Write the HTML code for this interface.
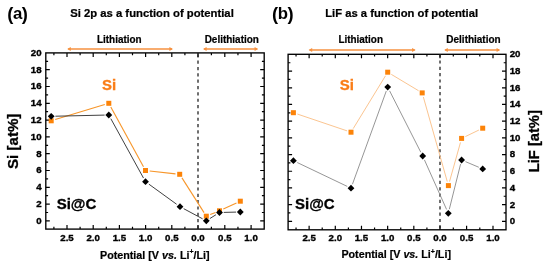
<!DOCTYPE html>
<html><head><meta charset="utf-8"><title>Si 2p and LiF as a function of potential</title>
<style>
html,body{margin:0;padding:0;background:#fff;}
svg{display:block;}
svg text{font-family:"Liberation Sans",Arial,sans-serif;font-weight:bold;}
svg text.tk{stroke:#000;stroke-width:0.35px;}
svg text.hv{stroke:#000;stroke-width:0.3px;}
svg text.hl{stroke:#000;stroke-width:0.22px;}
svg text.ho{stroke:#FA7D17;stroke-width:0.3px;}
</style></head>
<body>
<svg width="550" height="270" viewBox="0 0 550 270">
<rect width="550" height="270" fill="#fff"/>
<rect x="45.8" y="52.9" width="218.39999999999998" height="176.2" fill="none" stroke="#000" stroke-width="1.35"/>
<path d="M67.00 229.1v-4.0M67.00 52.9v4.0M93.20 229.1v-4.0M93.20 52.9v4.0M119.40 229.1v-4.0M119.40 52.9v4.0M145.60 229.1v-4.0M145.60 52.9v4.0M171.80 229.1v-4.0M171.80 52.9v4.0M198.00 229.1v-4.0M198.00 52.9v4.0M224.80 229.1v-4.0M224.80 52.9v4.0M251.10 229.1v-4.0M251.10 52.9v4.0M53.90 229.1v-2.3M53.90 52.9v2.3M80.10 229.1v-2.3M80.10 52.9v2.3M106.30 229.1v-2.3M106.30 52.9v2.3M132.50 229.1v-2.3M132.50 52.9v2.3M158.70 229.1v-2.3M158.70 52.9v2.3M184.90 229.1v-2.3M184.90 52.9v2.3M211.40 229.1v-2.3M211.40 52.9v2.3M237.95 229.1v-2.3M237.95 52.9v2.3M45.8 220.90h4.0M264.2 220.90h-4.0M45.8 204.10h4.0M264.2 204.10h-4.0M45.8 187.30h4.0M264.2 187.30h-4.0M45.8 170.50h4.0M264.2 170.50h-4.0M45.8 153.70h4.0M264.2 153.70h-4.0M45.8 136.90h4.0M264.2 136.90h-4.0M45.8 120.10h4.0M264.2 120.10h-4.0M45.8 103.30h4.0M264.2 103.30h-4.0M45.8 86.50h4.0M264.2 86.50h-4.0M45.8 69.70h4.0M264.2 69.70h-4.0M45.8 212.50h2.3M264.2 212.50h-2.3M45.8 195.70h2.3M264.2 195.70h-2.3M45.8 178.90h2.3M264.2 178.90h-2.3M45.8 162.10h2.3M264.2 162.10h-2.3M45.8 145.30h2.3M264.2 145.30h-2.3M45.8 128.50h2.3M264.2 128.50h-2.3M45.8 111.70h2.3M264.2 111.70h-2.3M45.8 94.90h2.3M264.2 94.90h-2.3M45.8 78.10h2.3M264.2 78.10h-2.3M45.8 61.30h2.3M264.2 61.30h-2.3" stroke="#000" stroke-width="1.2" fill="none"/>
<line x1="198.0" y1="54.25" x2="198.0" y2="229.1" stroke="#1a1a1a" stroke-width="1.25" stroke-dasharray="3.2 3.14"/>
<line x1="55.22" y1="119.58" x2="104.78" y2="104.52" stroke="#F7962A" stroke-width="1.1"/>
<line x1="110.81" y1="106.99" x2="143.49" y2="166.81" stroke="#F7962A" stroke-width="1.1"/>
<line x1="149.67" y1="170.96" x2="175.53" y2="173.84" stroke="#F7962A" stroke-width="1.1"/>
<line x1="181.95" y1="177.85" x2="204.05" y2="212.65" stroke="#F7962A" stroke-width="1.1"/>
<line x1="210.19" y1="214.61" x2="215.61" y2="212.39" stroke="#F7962A" stroke-width="1.1"/>
<line x1="223.31" y1="209.04" x2="236.49" y2="202.96" stroke="#F7962A" stroke-width="1.1"/>
<line x1="55.40" y1="116.21" x2="104.60" y2="115.09" stroke="#2b2b2b" stroke-width="0.9"/>
<line x1="110.82" y1="118.68" x2="143.48" y2="178.02" stroke="#2b2b2b" stroke-width="0.9"/>
<line x1="148.90" y1="184.16" x2="176.60" y2="204.24" stroke="#2b2b2b" stroke-width="0.9"/>
<line x1="183.70" y1="208.68" x2="202.60" y2="218.82" stroke="#2b2b2b" stroke-width="0.9"/>
<line x1="209.86" y1="218.56" x2="215.94" y2="214.74" stroke="#2b2b2b" stroke-width="0.9"/>
<line x1="223.70" y1="212.40" x2="236.10" y2="212.10" stroke="#2b2b2b" stroke-width="0.9"/>
<rect x="48.70" y="118.30" width="5.0" height="5.0" fill="#FC8308"/>
<rect x="106.30" y="100.80" width="5.0" height="5.0" fill="#FC8308"/>
<rect x="143.00" y="168.00" width="5.0" height="5.0" fill="#FC8308"/>
<rect x="177.20" y="171.80" width="5.0" height="5.0" fill="#FC8308"/>
<rect x="203.80" y="213.70" width="5.0" height="5.0" fill="#FC8308"/>
<rect x="217.00" y="208.30" width="5.0" height="5.0" fill="#FC8308"/>
<rect x="237.80" y="198.70" width="5.0" height="5.0" fill="#FC8308"/>
<path d="M51.20 112.90L54.60 116.30L51.20 119.70L47.80 116.30Z" fill="#000"/>
<path d="M108.80 111.60L112.20 115.00L108.80 118.40L105.40 115.00Z" fill="#000"/>
<path d="M145.50 178.30L148.90 181.70L145.50 185.10L142.10 181.70Z" fill="#000"/>
<path d="M180.00 203.30L183.40 206.70L180.00 210.10L176.60 206.70Z" fill="#000"/>
<path d="M206.30 217.40L209.70 220.80L206.30 224.20L202.90 220.80Z" fill="#000"/>
<path d="M219.50 209.10L222.90 212.50L219.50 215.90L216.10 212.50Z" fill="#000"/>
<path d="M240.30 208.60L243.70 212.00L240.30 215.40L236.90 212.00Z" fill="#000"/>
<text x="41.6" y="223.80" font-size="9.7" text-anchor="end" fill="#000" class="tk">0</text>
<text x="41.6" y="207.00" font-size="9.7" text-anchor="end" fill="#000" class="tk">2</text>
<text x="41.6" y="190.20" font-size="9.7" text-anchor="end" fill="#000" class="tk">4</text>
<text x="41.6" y="173.40" font-size="9.7" text-anchor="end" fill="#000" class="tk">6</text>
<text x="41.6" y="156.60" font-size="9.7" text-anchor="end" fill="#000" class="tk">8</text>
<text x="41.6" y="139.80" font-size="9.7" text-anchor="end" fill="#000" class="tk">10</text>
<text x="41.6" y="123.00" font-size="9.7" text-anchor="end" fill="#000" class="tk">12</text>
<text x="41.6" y="106.20" font-size="9.7" text-anchor="end" fill="#000" class="tk">14</text>
<text x="41.6" y="89.40" font-size="9.7" text-anchor="end" fill="#000" class="tk">16</text>
<text x="41.6" y="72.60" font-size="9.7" text-anchor="end" fill="#000" class="tk">18</text>
<text x="41.6" y="55.80" font-size="9.7" text-anchor="end" fill="#000" class="tk">20</text>
<text x="67.00" y="241.0" font-size="9.7" text-anchor="middle" fill="#000" class="tk">2.5</text>
<text x="93.20" y="241.0" font-size="9.7" text-anchor="middle" fill="#000" class="tk">2.0</text>
<text x="119.40" y="241.0" font-size="9.7" text-anchor="middle" fill="#000" class="tk">1.5</text>
<text x="145.60" y="241.0" font-size="9.7" text-anchor="middle" fill="#000" class="tk">1.0</text>
<text x="171.80" y="241.0" font-size="9.7" text-anchor="middle" fill="#000" class="tk">0.5</text>
<text x="198.00" y="241.0" font-size="9.7" text-anchor="middle" fill="#000" class="tk">0.0</text>
<text x="224.80" y="241.0" font-size="9.7" text-anchor="middle" fill="#000" class="tk">0.5</text>
<text x="251.10" y="241.0" font-size="9.7" text-anchor="middle" fill="#000" class="tk">1.0</text>
<line x1="68.2" y1="49.0" x2="172.0" y2="49.0" stroke="#F6913F" stroke-width="1.4"/><path d="M67.2 49.0l3.6 -2.1v4.2Z M173.0 49.0l-3.6 -2.1v4.2Z" fill="#F6913F"/>
<line x1="204.0" y1="49.0" x2="257.2" y2="49.0" stroke="#F6913F" stroke-width="1.4"/><path d="M203.0 49.0l3.6 -2.1v4.2Z M258.2 49.0l-3.6 -2.1v4.2Z" fill="#F6913F"/>
<text x="119.3" y="42.7" font-size="10.2" text-anchor="middle" fill="#000" textLength="44.6" lengthAdjust="spacingAndGlyphs" class="hl">Lithiation</text>
<text x="231.8" y="42.7" font-size="10.2" text-anchor="middle" fill="#000" textLength="54.3" lengthAdjust="spacingAndGlyphs" class="hl">Delithiation</text>
<text x="7.2" y="19.1" font-size="16.8"><tspan font-size="18.4" dy="0.6">(</tspan><tspan dy="-0.6" dx="-0.4">a</tspan><tspan font-size="18.4" dy="0.6" dx="-0.4">)</tspan></text>
<text x="70.2" y="16.6" font-size="11.3" text-anchor="start" fill="#000" textLength="163.6" lengthAdjust="spacingAndGlyphs" class="hl">Si 2p as a function of potential</text>
<text x="102.1" y="90.1" font-size="15" text-anchor="start" fill="#FA7D17" class="ho">Si</text>
<text x="56.7" y="208.8" font-size="15" text-anchor="start" fill="#000" class="hv">Si@C</text>
<text transform="translate(17.6 141.3) rotate(-90)" font-size="15.1" text-anchor="middle" class="hv">Si [at%]</text>
<text x="100.0" y="258.6" font-size="11.4" textLength="109.6" lengthAdjust="spacingAndGlyphs" class="hl">Potential [V <tspan font-style="italic">vs.</tspan> Li<tspan font-size="7.4" dy="-4.2">+</tspan><tspan dy="4.2">/Li]</tspan></text>
<rect x="288.1" y="54.3" width="217.89999999999998" height="175.5" fill="none" stroke="#000" stroke-width="1.35"/>
<path d="M309.12 229.8v-4.0M309.12 54.3v4.0M335.30 229.8v-4.0M335.30 54.3v4.0M361.48 229.8v-4.0M361.48 54.3v4.0M387.65 229.8v-4.0M387.65 54.3v4.0M413.82 229.8v-4.0M413.82 54.3v4.0M440.00 229.8v-4.0M440.00 54.3v4.0M466.60 229.8v-4.0M466.60 54.3v4.0M493.00 229.8v-4.0M493.00 54.3v4.0M296.04 229.8v-2.3M296.04 54.3v2.3M322.21 229.8v-2.3M322.21 54.3v2.3M348.39 229.8v-2.3M348.39 54.3v2.3M374.56 229.8v-2.3M374.56 54.3v2.3M400.74 229.8v-2.3M400.74 54.3v2.3M426.91 229.8v-2.3M426.91 54.3v2.3M453.30 229.8v-2.3M453.30 54.3v2.3M479.80 229.8v-2.3M479.80 54.3v2.3M288.1 221.30h4.0M506.0 221.30h-4.0M288.1 204.61h4.0M506.0 204.61h-4.0M288.1 187.92h4.0M506.0 187.92h-4.0M288.1 171.23h4.0M506.0 171.23h-4.0M288.1 154.54h4.0M506.0 154.54h-4.0M288.1 137.85h4.0M506.0 137.85h-4.0M288.1 121.16h4.0M506.0 121.16h-4.0M288.1 104.47h4.0M506.0 104.47h-4.0M288.1 87.78h4.0M506.0 87.78h-4.0M288.1 71.09h4.0M506.0 71.09h-4.0M288.1 212.96h2.3M506.0 212.96h-2.3M288.1 196.27h2.3M506.0 196.27h-2.3M288.1 179.58h2.3M506.0 179.58h-2.3M288.1 162.88h2.3M506.0 162.88h-2.3M288.1 146.19h2.3M506.0 146.19h-2.3M288.1 129.50h2.3M506.0 129.50h-2.3M288.1 112.81h2.3M506.0 112.81h-2.3M288.1 96.12h2.3M506.0 96.12h-2.3M288.1 79.44h2.3M506.0 79.44h-2.3M288.1 62.75h2.3M506.0 62.75h-2.3" stroke="#000" stroke-width="1.2" fill="none"/>
<line x1="440.0" y1="54.05" x2="440.0" y2="229.8" stroke="#1a1a1a" stroke-width="1.25" stroke-dasharray="3.2 3.14"/>
<line x1="297.38" y1="114.05" x2="347.02" y2="130.85" stroke="#FBC591" stroke-width="1.0"/>
<line x1="353.19" y1="128.62" x2="385.51" y2="75.78" stroke="#FBC591" stroke-width="1.0"/>
<line x1="391.30" y1="74.36" x2="418.60" y2="90.74" stroke="#FBC591" stroke-width="1.0"/>
<line x1="423.34" y1="96.94" x2="447.26" y2="181.56" stroke="#FBC591" stroke-width="1.0"/>
<line x1="449.53" y1="181.56" x2="460.47" y2="142.44" stroke="#FBC591" stroke-width="1.0"/>
<line x1="465.38" y1="136.57" x2="478.92" y2="130.03" stroke="#FBC591" stroke-width="1.0"/>
<line x1="297.19" y1="162.51" x2="347.21" y2="186.39" stroke="#8A8A8A" stroke-width="0.9"/>
<line x1="352.43" y1="184.25" x2="386.27" y2="91.05" stroke="#8A8A8A" stroke-width="0.9"/>
<line x1="389.60" y1="90.84" x2="420.80" y2="152.26" stroke="#8A8A8A" stroke-width="0.9"/>
<line x1="424.41" y1="159.83" x2="446.59" y2="209.47" stroke="#8A8A8A" stroke-width="0.9"/>
<line x1="449.32" y1="209.22" x2="460.58" y2="164.08" stroke="#8A8A8A" stroke-width="0.9"/>
<line x1="465.47" y1="161.63" x2="478.83" y2="167.27" stroke="#8A8A8A" stroke-width="0.9"/>
<rect x="290.90" y="110.20" width="5.0" height="5.0" fill="#FC8308"/>
<rect x="348.50" y="129.70" width="5.0" height="5.0" fill="#FC8308"/>
<rect x="385.20" y="69.70" width="5.0" height="5.0" fill="#FC8308"/>
<rect x="419.70" y="90.40" width="5.0" height="5.0" fill="#FC8308"/>
<rect x="445.90" y="183.10" width="5.0" height="5.0" fill="#FC8308"/>
<rect x="459.10" y="135.90" width="5.0" height="5.0" fill="#FC8308"/>
<rect x="480.20" y="125.70" width="5.0" height="5.0" fill="#FC8308"/>
<path d="M293.40 157.30L296.80 160.70L293.40 164.10L290.00 160.70Z" fill="#000"/>
<path d="M351.00 184.80L354.40 188.20L351.00 191.60L347.60 188.20Z" fill="#000"/>
<path d="M387.70 83.70L391.10 87.10L387.70 90.50L384.30 87.10Z" fill="#000"/>
<path d="M422.70 152.60L426.10 156.00L422.70 159.40L419.30 156.00Z" fill="#000"/>
<path d="M448.30 209.90L451.70 213.30L448.30 216.70L444.90 213.30Z" fill="#000"/>
<path d="M461.60 156.60L465.00 160.00L461.60 163.40L458.20 160.00Z" fill="#000"/>
<path d="M482.70 165.50L486.10 168.90L482.70 172.30L479.30 168.90Z" fill="#000"/>
<text x="509.7" y="224.20" font-size="9.7" text-anchor="start" fill="#000" class="tk">0</text>
<text x="509.7" y="207.51" font-size="9.7" text-anchor="start" fill="#000" class="tk">2</text>
<text x="509.7" y="190.82" font-size="9.7" text-anchor="start" fill="#000" class="tk">4</text>
<text x="509.7" y="174.13" font-size="9.7" text-anchor="start" fill="#000" class="tk">6</text>
<text x="509.7" y="157.44" font-size="9.7" text-anchor="start" fill="#000" class="tk">8</text>
<text x="509.7" y="140.75" font-size="9.7" text-anchor="start" fill="#000" class="tk">10</text>
<text x="509.7" y="124.06" font-size="9.7" text-anchor="start" fill="#000" class="tk">12</text>
<text x="509.7" y="107.37" font-size="9.7" text-anchor="start" fill="#000" class="tk">14</text>
<text x="509.7" y="90.68" font-size="9.7" text-anchor="start" fill="#000" class="tk">16</text>
<text x="509.7" y="73.99" font-size="9.7" text-anchor="start" fill="#000" class="tk">18</text>
<text x="509.7" y="57.30" font-size="9.7" text-anchor="start" fill="#000" class="tk">20</text>
<text x="309.12" y="241.0" font-size="9.7" text-anchor="middle" fill="#000" class="tk">2.5</text>
<text x="335.30" y="241.0" font-size="9.7" text-anchor="middle" fill="#000" class="tk">2.0</text>
<text x="361.48" y="241.0" font-size="9.7" text-anchor="middle" fill="#000" class="tk">1.5</text>
<text x="387.65" y="241.0" font-size="9.7" text-anchor="middle" fill="#000" class="tk">1.0</text>
<text x="413.82" y="241.0" font-size="9.7" text-anchor="middle" fill="#000" class="tk">0.5</text>
<text x="440.00" y="241.0" font-size="9.7" text-anchor="middle" fill="#000" class="tk">0.0</text>
<text x="466.60" y="241.0" font-size="9.7" text-anchor="middle" fill="#000" class="tk">0.5</text>
<text x="493.00" y="241.0" font-size="9.7" text-anchor="middle" fill="#000" class="tk">1.0</text>
<line x1="309.6" y1="50.0" x2="414.7" y2="50.0" stroke="#F6913F" stroke-width="1.4"/><path d="M308.6 50.0l3.6 -2.1v4.2Z M415.7 50.0l-3.6 -2.1v4.2Z" fill="#F6913F"/>
<line x1="445.2" y1="50.0" x2="499.2" y2="50.0" stroke="#F6913F" stroke-width="1.4"/><path d="M444.2 50.0l3.6 -2.1v4.2Z M500.2 50.0l-3.6 -2.1v4.2Z" fill="#F6913F"/>
<text x="360.7" y="43.3" font-size="10.2" text-anchor="middle" fill="#000" textLength="44.6" lengthAdjust="spacingAndGlyphs" class="hl">Lithiation</text>
<text x="473.5" y="43.3" font-size="10.2" text-anchor="middle" fill="#000" textLength="54.3" lengthAdjust="spacingAndGlyphs" class="hl">Delithiation</text>
<text x="272.0" y="19.1" font-size="16.8"><tspan font-size="18.4" dy="0.6">(</tspan><tspan dy="-0.6" dx="-0.4">b</tspan><tspan font-size="18.4" dy="0.6" dx="-0.4">)</tspan></text>
<text x="325.2" y="17.4" font-size="11.3" text-anchor="start" fill="#000" textLength="152.9" lengthAdjust="spacingAndGlyphs" class="hl">LiF as a function of potential</text>
<text x="339.8" y="90.1" font-size="15" text-anchor="start" fill="#FA7D17" class="ho">Si</text>
<text x="295.0" y="208.6" font-size="15" text-anchor="start" fill="#000" class="hv">Si@C</text>
<text transform="translate(539 141.2) rotate(-90)" font-size="14.7" text-anchor="middle" class="hv">LiF [at%]</text>
<text x="341.4" y="258.4" font-size="11.4" textLength="109.6" lengthAdjust="spacingAndGlyphs" class="hl">Potential [V <tspan font-style="italic">vs.</tspan> Li<tspan font-size="7.4" dy="-4.2">+</tspan><tspan dy="4.2">/Li]</tspan></text>
</svg>
</body></html>
